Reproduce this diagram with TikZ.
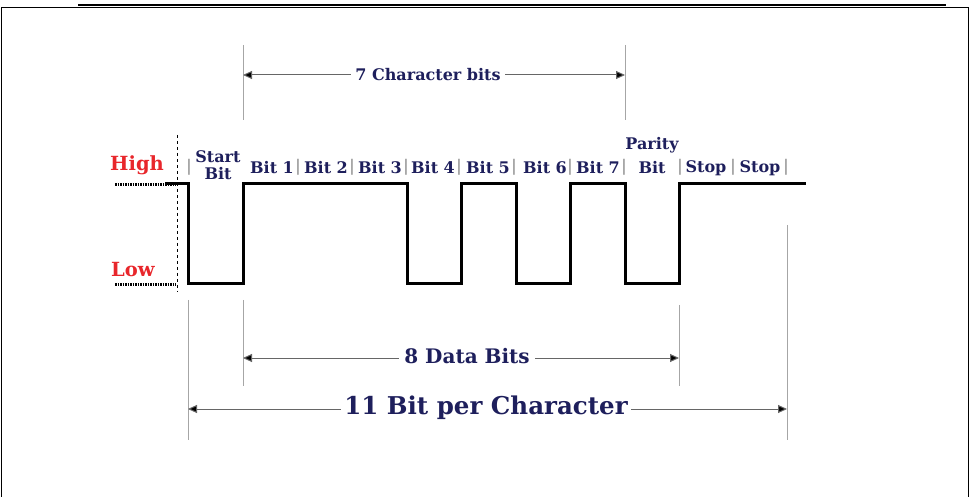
\documentclass[tikz,border=0pt]{standalone}
\usepackage{fontspec}
\setmainfont{DejaVu Serif}
\usetikzlibrary{arrows.meta}
\definecolor{navy}{HTML}{1E1F5C}
\definecolor{hired}{HTML}{E8262B}
\begin{document}
\begin{tikzpicture}[x=1pt,y=-1pt,
  lbl/.style={font=\bfseries\fontsize{16}{17}\selectfont,text=navy,inner sep=0pt},
  sep/.style={font=\fontsize{16}{17}\selectfont,text=gray,inner sep=0pt},
  lvl/.style={font=\bfseries\fontsize{19.5}{20}\selectfont,text=hired,inner sep=0pt},
  guide/.style={gray!70,line width=1pt},
  dim/.style={gray!80!black,line width=1pt,{Triangle[length=9pt,width=8pt,fill=black]}-{Triangle[length=9pt,width=8pt,fill=black]}},
  wave/.style={line width=3pt,line join=miter},
  dots/.style={line width=3pt,dash pattern=on 1.5pt off 1pt,line cap=butt}]
\useasboundingbox (0,0) rectangle (970,497);
% frame
\draw[line width=1.2pt] (78,5) -- (946,5);
\draw[line width=1pt] (1,497) -- (1,8) -- (968,8) -- (968,497);
% coordinates
\coordinate (hs) at (165,184);
\coordinate (he) at (806,184);
% waveform
\draw[wave] (hs) -- (188,184) -- (188,284) -- (243,284) -- (243,184) -- (407,184) -- (407,284) -- (461,284) -- (461,184)
  -- (516,184) -- (516,284) -- (570,284) -- (570,184) -- (625,184) -- (625,284) -- (679,284) -- (679,184) -- (he);
\draw[dots] (115,185) -- (176,185);
\draw[dots] (115,285) -- (176,285);
\draw[line width=1pt,dashed] (177,135) -- (177,292);
% levels
\node[lvl] (high) at (137,165) {High};
\node[lvl] (low) at (133,270) {Low};
% guides
\draw[guide] (243,45) -- (243,120);
\draw[guide] (625,45) -- (625,120);
\draw[guide] (243,300) -- (243,386);
\draw[guide] (679,305) -- (679,386);
\draw[guide] (188,300) -- (188,440);
\draw[guide] (787,225) -- (787,440);
% bit labels
\node[lbl,align=center] (start) at (218,165) {Start\\Bit};
\node[lbl] (b1) at (272,168) {Bit 1};
\node[lbl] (b2) at (326,168) {Bit 2};
\node[lbl] (b3) at (380,168) {Bit 3};
\node[lbl] (b4) at (433,168) {Bit 4};
\node[lbl] (b5) at (488,168) {Bit 5};
\node[lbl] (b6) at (545,168) {Bit 6};
\node[lbl] (b7) at (598,168) {Bit 7};
\node[lbl] (par) at (652,145) {Parity};
\node[lbl] (parb) at (652,168) {Bit};
\node[lbl] (s1) at (706,168) {Stop};
\node[lbl] (s2) at (760,168) {Stop};
\foreach \x in {189,298,352,406,459,514,570,624,680,733,786}
  \node[sep] at (\x,167) {|};
% dimension arrows
\coordinate (a1) at (243,75); \coordinate (a2) at (625,75);
\draw[dim] (a1) -- (a2);
\node[lbl,fill=white,inner xsep=4pt,inner ysep=2pt] (c7) at (428,75) {7 Character bits};
\coordinate (d1) at (243,358); \coordinate (d2) at (679,358);
\draw[dim] (d1) -- (d2);
\node[lbl,font=\bfseries\fontsize{20}{21}\selectfont,fill=white,inner xsep=5pt,inner ysep=2pt] (d8) at (467,356) {8 Data Bits};
\coordinate (e1) at (188,409); \coordinate (e2) at (787,409);
\draw[dim] (e1) -- (e2);
\node[lbl,font=\bfseries\fontsize{24.5}{25}\selectfont,fill=white,inner xsep=3pt,inner ysep=2pt] (e11) at (486,408) {11 Bit per Character};
\end{tikzpicture}
\end{document}
